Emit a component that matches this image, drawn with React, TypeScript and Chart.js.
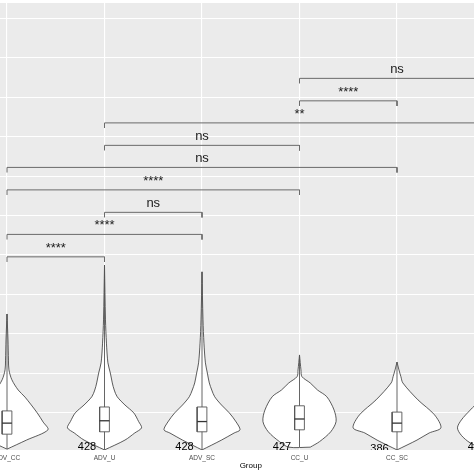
import { useEffect, useRef } from "react";
import { Chart, registerables } from "chart.js";

Chart.register(...registerables);

// ---------- data ----------
const groups = ["ADV_CC", "ADV_U", "ADV_SC", "CC_U", "CC_SC", "SC_U"];
const counts = ["428", "428", "428", "427", "386", "427"];
const countY = [0.05, 0.05, 0.05, 0.05, 0.0, 0.05];

// violin outlines: value levels and half widths (fraction of group spacing)
const advCcLevels = [0.07, 0.3, 0.56, 0.76, 0.99, 1.39, 1.57, 1.83, 2.08, 2.33, 2.84, 3.5];
const advCcWidths = [0, 0.2, 0.42, 0.37, 0.31, 0.185, 0.115, 0.05, 0.02, 0.015, 0.01, 0];
const advULevels = [0.05, 0.3, 0.48, 0.61, 0.77, 0.99, 1.19, 1.4, 1.57, 1.75, 2.0, 2.26, 2.76, 3.35, 4.74];
const advUWidths = [0, 0.21, 0.31, 0.38, 0.35, 0.3, 0.21, 0.13, 0.1, 0.08, 0.06, 0.035, 0.02, 0.01, 0];
const advScLevels = [0.05, 0.3, 0.48, 0.56, 0.76, 0.99, 1.19, 1.4, 1.57, 1.75, 2.0, 2.26, 2.76, 3.35, 4.57];
const advScWidths = [0, 0.2, 0.33, 0.39, 0.35, 0.28, 0.2, 0.13, 0.1, 0.075, 0.055, 0.035, 0.02, 0.01, 0];
const ccULevels = [0.12, 0.26, 0.51, 0.77, 1.06, 1.4, 1.57, 1.75, 1.91, 2.08, 2.46];
const ccUWidths = [0.11, 0.205, 0.32, 0.375, 0.355, 0.28, 0.185, 0.11, 0.025, 0.015, 0];
const ccScLevels = [0.05, 0.3, 0.48, 0.61, 0.94, 1.32, 1.75, 1.91, 2.08, 2.28];
const ccScWidths = [0, 0.205, 0.33, 0.45, 0.385, 0.215, 0.06, 0.04, 0.02, 0];
const scULevels = [0.05, 0.23, 0.42, 0.61, 0.81, 1.06, 1.32, 1.57, 1.95, 2.33, 2.71];
const scUWidths = [0.08, 0.25, 0.34, 0.38, 0.34, 0.25, 0.15, 0.09, 0.04, 0.015, 0];

// box plots
const boxQ1 = [0.45, 0.51, 0.51, 0.56, 0.51, 0.5];
const boxMedian = [0.73, 0.79, 0.77, 0.835, 0.73, 0.78];
const boxQ3 = [1.04, 1.14, 1.14, 1.17, 1.01, 1.1];
const whiskerLow = [0.07, 0.05, 0.05, 0.12, 0.05, 0.05];
const whiskerHigh = [3.5, 4.74, 4.57, 2.46, 2.28, 2.71];

// significance brackets
const bracketFrom = [0, 0, 1, 0, 0, 1, 1, 3, 3];
const bracketTo = [1, 2, 2, 3, 4, 3, 5, 4, 5];
const bracketY = [4.95, 5.52, 6.08, 6.65, 7.22, 7.78, 8.35, 8.91, 9.48];
const bracketLabels = ["****", "****", "ns", "****", "ns", "ns", "**", "****", "ns"];
const bracketTip = 0.13;

const yGrid = [1, 2, 3, 4, 5, 6, 7, 8, 9, 10, 11];
const xTicks = [0, 1, 2, 3, 4];

// ---------- build ----------
const violinLevels = [advCcLevels, advULevels, advScLevels, ccULevels, ccScLevels, scULevels];
const violinWidths = [advCcWidths, advUWidths, advScWidths, ccUWidths, ccScWidths, scUWidths];
const BOX_HALF = 0.05;
const FONT = '"Liberation Sans", Arial, Helvetica, sans-serif';

function violinPoints(i: number) {
  const L = violinLevels[i];
  const W = violinWidths[i];
  const right = L.map((v, k) => ({ x: i + W[k], y: v }));
  const left = L.map((v, k) => ({ x: i - W[k], y: v })).reverse();
  const pts = [...right, ...left];
  pts.push({ ...pts[0] });
  return pts;
}

function buildDatasets() {
  const ds: any[] = [];
  groups.forEach((_, i) => {
    ds.push({
      data: violinPoints(i),
      borderColor: "#333333",
      borderWidth: 0.8,
      backgroundColor: "#ffffff",
      fill: "shape",
      tension: 0.3,
      order: 5,
    });
    ds.push({
      data: [
        { x: i, y: whiskerLow[i] },
        { x: i, y: whiskerHigh[i] },
      ],
      borderColor: "#555555",
      borderWidth: 0.9,
      fill: false,
      order: 4,
    });
    ds.push({
      data: [
        { x: i - BOX_HALF, y: boxQ1[i] },
        { x: i + BOX_HALF, y: boxQ1[i] },
        { x: i + BOX_HALF, y: boxQ3[i] },
        { x: i - BOX_HALF, y: boxQ3[i] },
        { x: i - BOX_HALF, y: boxQ1[i] },
      ],
      borderColor: "#555555",
      borderWidth: 0.9,
      backgroundColor: "#ffffff",
      fill: "shape",
      tension: 0,
      order: 3,
    });
    ds.push({
      data: [
        { x: i - BOX_HALF, y: boxMedian[i] },
        { x: i + BOX_HALF, y: boxMedian[i] },
      ],
      borderColor: "#333333",
      borderWidth: 1.3,
      fill: false,
      order: 2,
    });
  });
  bracketLabels.forEach((_, b) => {
    const a = bracketFrom[b];
    const c = bracketTo[b];
    const y = bracketY[b];
    ds.push({
      data: [
        { x: a, y: y - bracketTip },
        { x: a, y },
        { x: c, y },
        { x: c, y: y - bracketTip },
      ],
      borderColor: "#6a6a6a",
      borderWidth: 1,
      fill: false,
      tension: 0,
      order: 1,
    });
  });
  return ds;
}

const panelPlugin = {
  id: "ggPanel",
  beforeDraw(chart: any) {
    const { ctx, chartArea: a } = chart;
    ctx.save();
    ctx.fillStyle = "#EBEBEB";
    ctx.fillRect(a.left, a.top, a.right - a.left, a.bottom - a.top);
    ctx.restore();
  },
  afterDatasetsDraw(chart: any) {
    const { ctx, chartArea: a, scales } = chart;
    const xs = scales.x;
    const ys = scales.y;
    ctx.save();
    ctx.beginPath();
    ctx.rect(a.left, a.top, a.right - a.left, a.bottom - a.top);
    ctx.clip();
    ctx.textAlign = "center";
    ctx.textBaseline = "alphabetic";
    ctx.fillStyle = "#1a1a1a";
    ctx.font = `13px ${FONT}`;
    bracketLabels.forEach((t, b) => {
      const px = xs.getPixelForValue((bracketFrom[b] + bracketTo[b]) / 2);
      const py = ys.getPixelForValue(bracketY[b]) - 5;
      ctx.fillText(t, px, py);
    });
    ctx.fillStyle = "#000000";
    ctx.font = `11px ${FONT}`;
    counts.forEach((t, i) => {
      ctx.fillText(t, xs.getPixelForValue(i - 0.18), ys.getPixelForValue(countY[i]));
    });
    ctx.restore();
  },
  afterDraw(chart: any) {
    const { ctx, chartArea: a, scales } = chart;
    ctx.save();
    ctx.fillStyle = "#000000";
    ctx.font = `8px ${FONT}`;
    ctx.textAlign = "center";
    ctx.textBaseline = "middle";
    ctx.fillText("Group", scales.x.getPixelForValue((groups.length - 1) / 2), a.bottom + 16);
    ctx.restore();
  },
};

export default function App() {
  const ref = useRef<HTMLCanvasElement>(null);
  useEffect(() => {
    if (!ref.current) return;
    Chart.defaults.font.family = FONT;
    const chart = new Chart(ref.current, {
      type: "line",
      data: { datasets: buildDatasets() },
      options: {
        responsive: false,
        animation: false,
        events: [],
        layout: { padding: { top: 3, left: 0, right: 0, bottom: 0 } },
        elements: { point: { radius: 0 } },
        plugins: {
          legend: { display: false },
          tooltip: { enabled: false },
        },
        scales: {
          x: {
            type: "linear",
            min: -0.0718,
            max: 4.7897,
            afterBuildTicks: (axis: any) => {
              axis.ticks = xTicks.map((v) => ({ value: v }));
            },
            afterFit: (axis: any) => {
              axis.height = 24;
              axis.paddingLeft = 0;
              axis.paddingRight = 0;
            },
            grid: { color: "#ffffff", lineWidth: 1.1, drawTicks: false },
            border: { display: false },
            ticks: {
              autoSkip: false,
              maxRotation: 0,
              minRotation: 0,
              padding: 4,
              color: "#4D4D4D",
              font: { size: 6.5, family: FONT },
              callback: (v: any) => groups[Math.round(Number(v))] ?? "",
            },
          },
          y: {
            type: "linear",
            min: 0.048,
            max: 11.393,
            afterBuildTicks: (axis: any) => {
              axis.ticks = yGrid.map((v) => ({ value: v }));
            },
            afterFit: (axis: any) => {
              axis.width = 0;
            },
            grid: { color: "#ffffff", lineWidth: 1, drawTicks: false },
            border: { display: false },
            ticks: { display: false },
          },
        },
      },
      plugins: [panelPlugin],
    } as any);
    return () => chart.destroy();
  }, []);
  return (
    <div style={{ position: "fixed", left: 0, top: 0, width: 474, height: 474, background: "#ffffff" }}>
      <canvas ref={ref} width={474} height={474} style={{ display: "block", width: 474, height: 474 }} />
    </div>
  );
}
